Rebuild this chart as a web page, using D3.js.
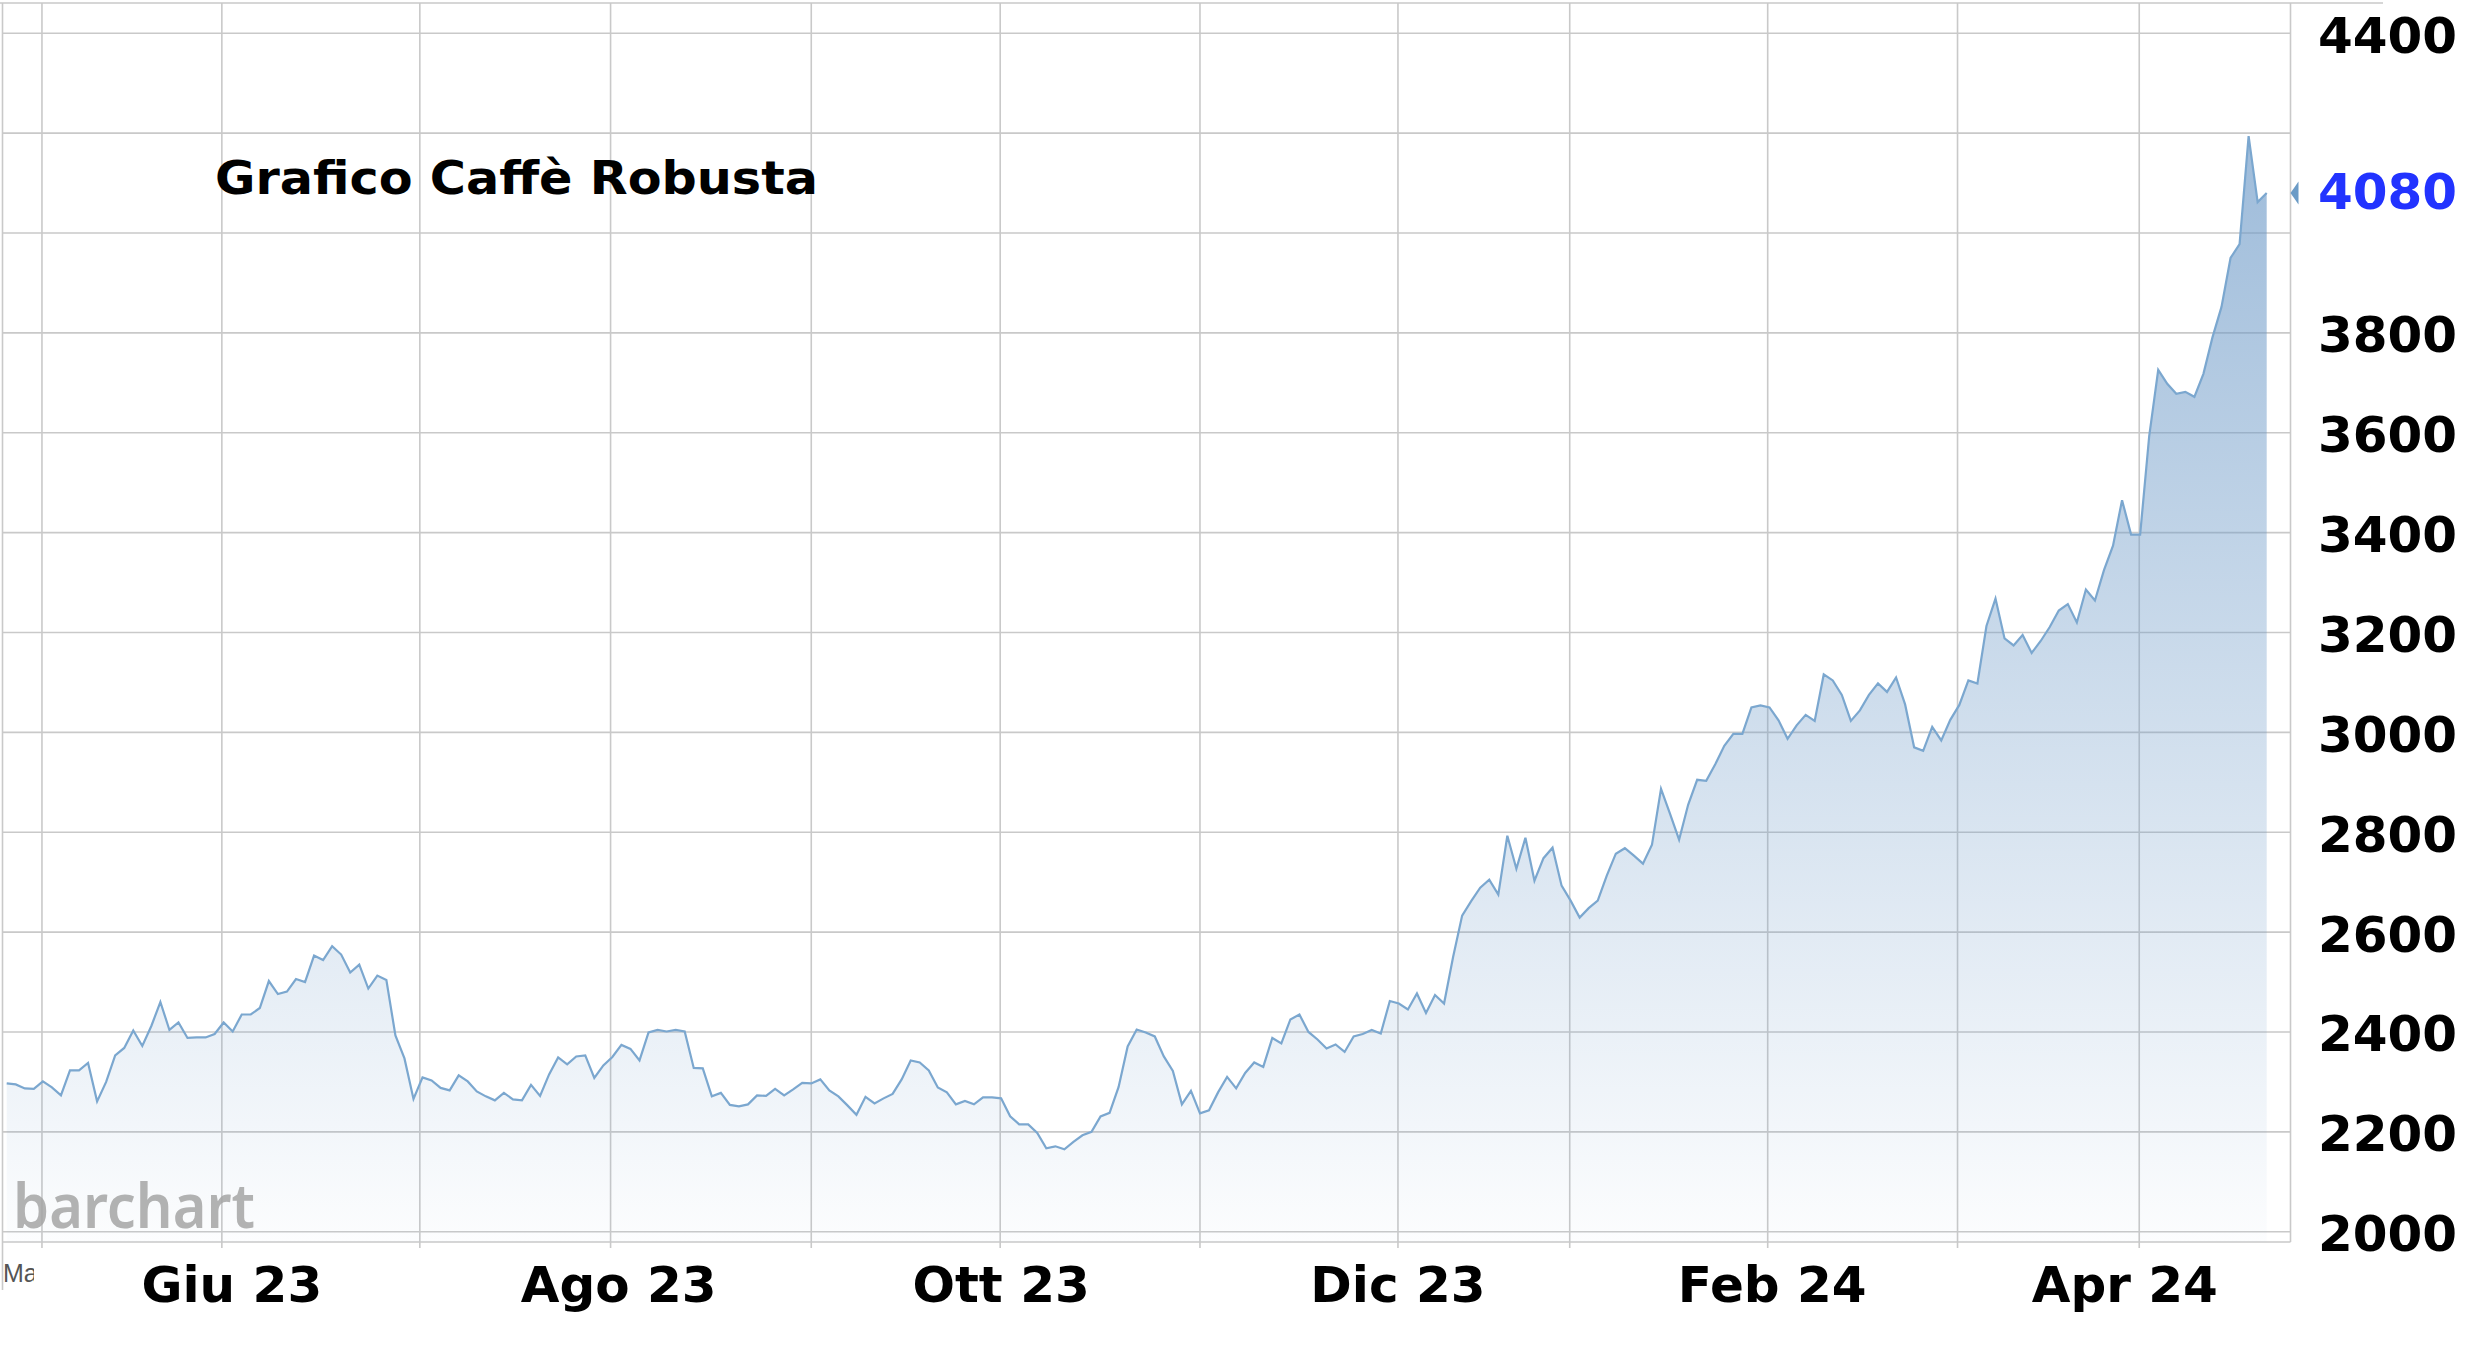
<!DOCTYPE html>
<html>
<head>
<meta charset="utf-8">
<script src="https://cdn.jsdelivr.net/npm/d3@7"></script>
<style>
  html, body { margin: 0; padding: 0; background: #ffffff; }
  svg { display: block; }
</style>
</head>
<body>
<svg id="chart" width="2488" height="1348"></svg>
<script>
// ---- DATA ----
const title = "Grafico Caffè Robusta";
// daily closes (trading-day index 0..250)
const closes = [
  2297,2295,2287,2286,2301,2289,2273,2323,2323,2338,
  2261,2300,2353,2368,2403,2372,2412,2460,2404,2419,
  2388,2389,2389,2396,2419,2401,2435,2435,2448,2502,
  2476,2481,2506,2500,2553,2544,2572,2555,2519,2535,
  2487,2513,2504,2393,2347,2266,2309,2303,2288,2283,
  2313,2301,2281,2271,2263,2278,2265,2263,2294,2272,
  2315,2349,2335,2351,2353,2308,2333,2350,2374,2366,
  2343,2399,2404,2401,2404,2401,2328,2327,2271,2278,
  2254,2251,2255,2273,2272,2286,2273,2285,2298,2297,
  2305,2283,2271,2253,2234,2270,2257,2267,2276,2305,
  2343,2339,2323,2289,2279,2255,2262,2255,2269,2269,
  2267,2231,2215,2215,2198,2167,2171,2165,2180,2193,
  2200,2231,2238,2290,2371,2405,2399,2391,2351,2322,
  2255,2282,2237,2243,2279,2310,2287,2318,2339,2330,
  2388,2377,2425,2435,2400,2385,2367,2375,2360,2391,
  2396,2404,2397,2462,2457,2445,2477,2438,2474,2457,
  2550,2633,2662,2689,2705,2675,2793,2727,2789,2703,
  2748,2769,2693,2663,2629,2648,2663,2713,2757,2768,
  2753,2737,2775,2887,2837,2785,2855,2905,2903,2936,
  2973,2997,2997,3050,3054,3050,3024,2987,3014,3035,
  3023,3116,3104,3075,3023,3044,3075,3098,3081,3110,
  3056,2970,2963,3011,2984,3025,3055,3104,3098,3213,
  3268,3188,3174,3195,3159,3183,3211,3244,3257,3220,
  3286,3264,3325,3374,3465,3396,3396,3593,3726,3698,
  3678,3682,3672,3718,3791,3852,3950,3978,4194,4062,
  4080
];
const lastValue = 4080;
// month-start grid positions (in trading-day index units)
const monthGridIdx = [3.9, 23.8, 45.7, 66.8, 89.0, 109.9, 132.0, 153.9, 172.9, 194.8, 215.8, 235.9];
// x-axis labels and their positions (trading-day index units)
const monthLabels = ["Giu 23", "Ago 23", "Ott 23", "Dic 23", "Feb 24", "Apr 24"];
const monthLabelIdx = [24.9, 67.7, 110.0, 153.9, 195.3, 234.3];
const firstLabel = "Mag 23";
// y-axis grid ticks
const yTicks = [2000, 2200, 2400, 2600, 2800, 3000, 3200, 3400, 3600, 3800, 4000, 4200, 4400];
const watermark = "barchart";

// ---- LAYOUT ----
const svg = d3.select("#chart");
const plotLeft = 2.5, plotRight = 2290.5, plotTop = 3, plotBottom = 1242;
const gridColor = "#c9c9c9";

const x = d3.scaleLinear().domain([0, closes.length - 1]).range([6.7, 2266.7]);
const y = d3.scaleLinear().domain([2000, 4400]).range([1231.7, 33.3]);

const defs = svg.append("defs");
defs.append("clipPath").attr("id", "plotClip")
  .append("rect").attr("x", plotLeft).attr("y", plotTop)
  .attr("width", plotRight - plotLeft).attr("height", plotBottom - plotTop);
defs.append("clipPath").attr("id", "firstLblClip")
  .append("rect").attr("x", 0).attr("y", 1240).attr("width", 34).attr("height", 80);

const grad = defs.append("linearGradient").attr("id", "areaGrad")
  .attr("gradientUnits", "userSpaceOnUse")
  .attr("x1", 0).attr("x2", 0).attr("y1", 33).attr("y2", plotBottom);
grad.append("stop").attr("offset", 0).attr("stop-color", "rgb(108,153,199)").attr("stop-opacity", 0.72);
grad.append("stop").attr("offset", 1).attr("stop-color", "rgb(108,153,199)").attr("stop-opacity", 0.02);

// ---- GRID ----
const grid = svg.append("g");
grid.selectAll("line.h").data(yTicks).join("line")
  .attr("x1", plotLeft).attr("x2", plotRight)
  .attr("y1", d => y(d)).attr("y2", d => y(d))
  .attr("stroke", gridColor).attr("stroke-width", 1.6);
grid.selectAll("line.v").data(monthGridIdx).join("line")
  .attr("x1", d => x(d)).attr("x2", d => x(d))
  .attr("y1", plotTop).attr("y2", plotBottom + 6)
  .attr("stroke", gridColor).attr("stroke-width", 1.6);

// frame
svg.append("line").attr("x1", 0).attr("x2", 2383).attr("y1", plotTop).attr("y2", plotTop)
  .attr("stroke", gridColor).attr("stroke-width", 1.6);
svg.append("line").attr("x1", plotLeft).attr("x2", plotRight).attr("y1", plotBottom).attr("y2", plotBottom)
  .attr("stroke", gridColor).attr("stroke-width", 1.6);
svg.append("line").attr("x1", plotLeft).attr("x2", plotLeft).attr("y1", plotTop).attr("y2", 1290)
  .attr("stroke", gridColor).attr("stroke-width", 1.6);
svg.append("line").attr("x1", plotRight).attr("x2", plotRight).attr("y1", plotTop).attr("y2", plotBottom)
  .attr("stroke", gridColor).attr("stroke-width", 1.6);

// ---- AREA + LINE ----
const plot = svg.append("g").attr("clip-path", "url(#plotClip)");
const area = d3.area().x((d, i) => x(i)).y0(plotBottom).y1(d => y(d));
const line = d3.line().x((d, i) => x(i)).y(d => y(d));
plot.append("path").datum(closes).attr("d", area).attr("fill", "url(#areaGrad)");

// watermark
svg.append("text").text(watermark)
  .attr("x", 13).attr("y", 1228)
  .attr("textLength", 242).attr("lengthAdjust", "spacingAndGlyphs")
  .attr("font-family", "'Noto Sans', 'DejaVu Sans', sans-serif")
  .attr("font-weight", 600).attr("font-size", 62)
  .attr("fill", "#a4a4a4").attr("fill-opacity", 0.85);

plot.append("path").datum(closes).attr("d", line)
  .attr("fill", "none").attr("stroke", "#7ba7cf").attr("stroke-width", 2.2)
  .attr("stroke-linejoin", "miter");

// ---- TITLE ----
svg.append("text").text(title)
  .attr("x", 215).attr("y", 194)
  .attr("textLength", 603).attr("lengthAdjust", "spacingAndGlyphs")
  .attr("font-family", "'DejaVu Sans', Verdana, sans-serif")
  .attr("font-weight", "bold").attr("font-size", 46).attr("fill", "#000");

// ---- Y AXIS LABELS (labels too close to the last-value tag are hidden) ----
const yl = y(lastValue);
const labelTicks = yTicks.filter(t => Math.abs(y(t) - yl) > 60);
const yAxis = d3.axisRight(y).tickValues(labelTicks).tickSize(0).tickPadding(0).tickFormat(d3.format("d"));
const yG = svg.append("g").attr("transform", `translate(2318,0)`).call(yAxis);
yG.select(".domain").remove();
yG.selectAll("text")
  .attr("x", 0).attr("dy", 19).attr("dominant-baseline", "auto")
  .attr("text-anchor", "start")
  .attr("font-family", "'DejaVu Sans', Verdana, sans-serif")
  .attr("font-weight", "bold").attr("font-size", 50).attr("fill", "#000");

// last value marker + label
svg.append("path")
  .attr("d", d3.line()([[plotRight, yl], [plotRight + 8, yl - 11.5], [plotRight + 8, yl + 11.5]]) + "Z")
  .attr("fill", "#6b9bc6");
svg.append("text").text(d3.format("d")(lastValue))
  .attr("x", 2318).attr("y", yl + 16)
  .attr("font-family", "'DejaVu Sans', Verdana, sans-serif")
  .attr("font-weight", "bold").attr("font-size", 50).attr("fill", "#2233ff");

// ---- X AXIS LABELS ----
svg.append("g").selectAll("text").data(monthLabels).join("text")
  .text(d => d)
  .attr("x", (d, i) => x(monthLabelIdx[i])).attr("y", 1302)
  .attr("text-anchor", "middle")
  .attr("font-family", "'DejaVu Sans', Verdana, sans-serif")
  .attr("font-weight", "bold").attr("font-size", 50).attr("fill", "#000");

svg.append("text").text(firstLabel)
  .attr("clip-path", "url(#firstLblClip)")
  .attr("x", 3).attr("y", 1282)
  .attr("font-family", "'Liberation Sans Narrow', 'Liberation Sans', sans-serif")
  .attr("font-size", 25).attr("fill", "#555");
</script>
</body>
</html>
